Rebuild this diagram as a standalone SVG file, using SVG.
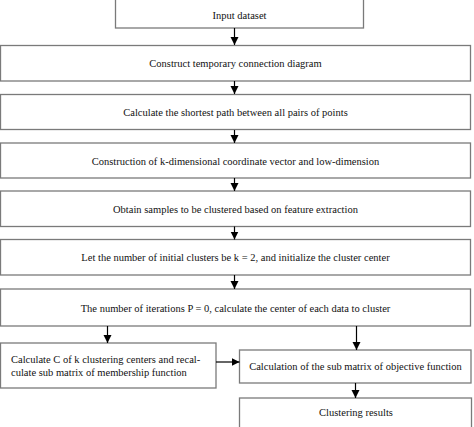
<svg xmlns="http://www.w3.org/2000/svg" width="474" height="427" viewBox="0 0 474 427">
<defs>
<marker id="ah" markerWidth="10" markerHeight="10" refX="8" refY="4.5" orient="auto" markerUnits="userSpaceOnUse">
<path d="M0,0.5 L8,4.5 L0,8.5 Z" fill="#000"/>
</marker>
<style>
.box{fill:#fff;stroke:#7a7a7a;stroke-width:1.3}
.t{font-family:"Liberation Serif","Times New Roman",serif;font-size:10.5px;fill:#111;text-anchor:middle}
.tl{font-family:"Liberation Serif","Times New Roman",serif;font-size:10.5px;fill:#111}
.c{stroke:#000;stroke-width:1.2;fill:none;marker-end:url(#ah)}
</style>
</defs>
<rect width="474" height="427" fill="#fff"/>
<g id="n1"><rect class="box" x="115.5" y="-1" width="248" height="29"/><text class="t" x="239.5" y="18.5">Input dataset</text></g>
<g id="n2"><rect class="box" x="0.5" y="45.5" width="470" height="35.5"/><text class="t" x="235.5" y="67">Construct temporary connection diagram</text></g>
<g id="n3"><rect class="box" x="0.5" y="94.5" width="470" height="35"/><text class="t" x="235.5" y="116">Calculate the shortest path between all pairs of points</text></g>
<g id="n4"><rect class="box" x="0.5" y="143" width="470" height="35"/><text class="t" x="235.5" y="164.5">Construction of k-dimensional coordinate vector and low-dimension</text></g>
<g id="n5"><rect class="box" x="0.5" y="191" width="470" height="35.5"/><text class="t" x="235.5" y="212.5">Obtain samples to be clustered based on feature extraction</text></g>
<g id="n6"><rect class="box" x="0.5" y="239.5" width="470" height="35.5"/><text class="t" x="235.5" y="261">Let the number of initial clusters be k = 2, and initialize the cluster center</text></g>
<g id="n7"><rect class="box" x="0.5" y="289" width="470" height="37"/><text class="t" x="235.5" y="311.5">The number of iterations P = 0, calculate the center of each data to cluster</text></g>
<g id="n8"><rect class="box" x="0.5" y="343" width="215.5" height="45"/><text class="tl" x="11" y="362.5">Calculate C of k clustering centers and recal-</text><text class="tl" x="11" y="375.5">culate sub matrix of membership function</text></g>
<g id="n9"><rect class="box" x="239.5" y="350" width="231.5" height="33"/><text class="t" x="355.5" y="370">Calculation of the sub matrix of objective function</text></g>
<g id="n10"><rect class="box" x="239.5" y="398" width="232" height="40"/><text class="t" x="356" y="416">Clustering results</text></g>
<g id="connectors">
<line class="c" x1="234.5" y1="28" x2="234.5" y2="45"/>
<line class="c" x1="234.5" y1="81" x2="234.5" y2="94"/>
<line class="c" x1="234.5" y1="130" x2="234.5" y2="143"/>
<line class="c" x1="234.5" y1="178" x2="234.5" y2="191"/>
<line class="c" x1="234.5" y1="226.5" x2="234.5" y2="239.5"/>
<line class="c" x1="234.5" y1="275" x2="234.5" y2="289"/>
<line class="c" x1="107.5" y1="326" x2="107.5" y2="343"/>
<line class="c" x1="356.5" y1="326" x2="356.5" y2="350"/>
<line class="c" x1="216" y1="362" x2="239.5" y2="362"/>
<line class="c" x1="355.5" y1="383" x2="355.5" y2="398"/>
</g>
</svg>
